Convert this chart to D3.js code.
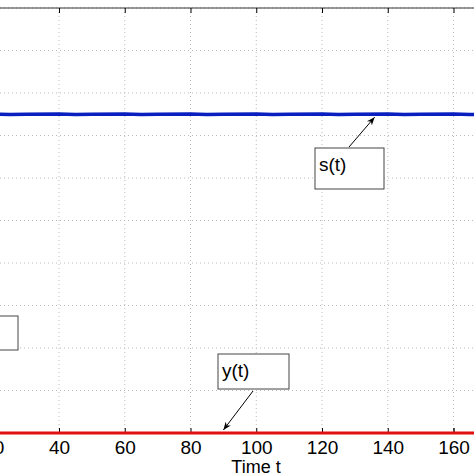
<!DOCTYPE html><html><head><meta charset="utf-8"><script src="https://d3js.org/d3.v7.min.js"></script>
<style>body{margin:0;background:#fff}</style></head><body><script>
const xTicks=[20,40,60,80,100,120,140,160,180];
const yTicks=[0,0.1,0.2,0.3,0.4,0.5,0.6,0.7,0.8,0.9,1];
const tS=[0,10,20,25,30,40,45,50,60,65,70,80,85,90,100,105,110,120,125,130,140,145,150,160,165,170,180];
const sVals=[0.75,0.7495,0.7505,0.7495,0.75,0.7505,0.7495,0.75,0.7505,0.7495,0.75,0.7505,0.7495,0.75,0.7505,0.7495,0.75,0.7505,0.7495,0.75,0.7505,0.7495,0.75,0.7505,0.7495,0.75,0.75];
const yVals=tS.map(()=>0);
const W=474,H=474;
const svg=d3.select("body").append("svg").attr("width",W).attr("height",H);
const x=d3.scaleLinear().domain([40,160]).range([59,453.5]);
const y=d3.scaleLinear().domain([0,1]).range([433,8]);
const g=svg.append("g");
g.selectAll(".gx").data(xTicks).join("line").attr("x1",d=>x(d)).attr("x2",d=>x(d)).attr("y1",8).attr("y2",433).attr("stroke","#bbb").attr("stroke-dasharray","1,3");
g.selectAll(".gy").data(yTicks).join("line").attr("x1",0).attr("x2",W).attr("y1",d=>y(d)).attr("y2",d=>y(d)).attr("stroke","#bbb").attr("stroke-dasharray","1,3");
svg.append("line").attr("x1",0).attr("x2",W).attr("y1",8).attr("y2",8).attr("stroke","#333");
svg.append("g").attr("transform","translate(0,8)").call(d3.axisBottom(x).tickValues(xTicks).tickSize(5).tickFormat("")).call(a=>a.select(".domain").remove());
const ax=svg.append("g").attr("transform","translate(0,433)").call(d3.axisBottom(x).tickValues(xTicks).tickSize(-5).tickPadding(8));
ax.select(".domain").attr("stroke","#333");
ax.selectAll("text").attr("font-family","Liberation Sans, Arial").attr("font-size",19).attr("fill","#000");
svg.append("text").attr("x",256).attr("y",473).attr("text-anchor","middle").attr("font-family","Liberation Sans, Arial").attr("font-size",18).text("Time t");
const line=d3.line().x((d,i)=>x(tS[i])).y(d=>y(d));
svg.append("path").datum(sVals).attr("d",line).attr("fill","none").attr("stroke","#0a1fc0").attr("stroke-width",3.5);
svg.append("path").datum(yVals).attr("d",line).attr("fill","none").attr("stroke","#e01010").attr("stroke-width",3);
svg.append("defs").append("marker").attr("id","ar").attr("viewBox","0 0 10 10").attr("refX",10).attr("refY",5).attr("markerWidth",8).attr("markerHeight",8).attr("orient","auto").append("path").attr("d","M0,1L10,5L0,9L3,5Z").attr("fill","#000");
function box(x0,y0,w,h,t){svg.append("rect").attr("x",x0).attr("y",y0).attr("width",w).attr("height",h).attr("fill","#fff").attr("stroke","#444");
 if(t)svg.append("text").attr("x",x0+4).attr("y",y0+23).attr("font-family","Liberation Sans, Arial").attr("font-size",19).text(t);}
svg.append("line").attr("x1",349).attr("y1",147).attr("x2",x(136)).attr("y2",y(0.743)).attr("stroke","#000").attr("marker-end","url(#ar)");
box(315,148,69,41,"s(t)");
svg.append("line").attr("x1",253).attr("y1",391).attr("x2",x(90)).attr("y2",y(0.007)).attr("stroke","#000").attr("marker-end","url(#ar)");
box(218,354,71,35,"y(t)");
box(-10,316,28,34,"");
</script></body></html>
